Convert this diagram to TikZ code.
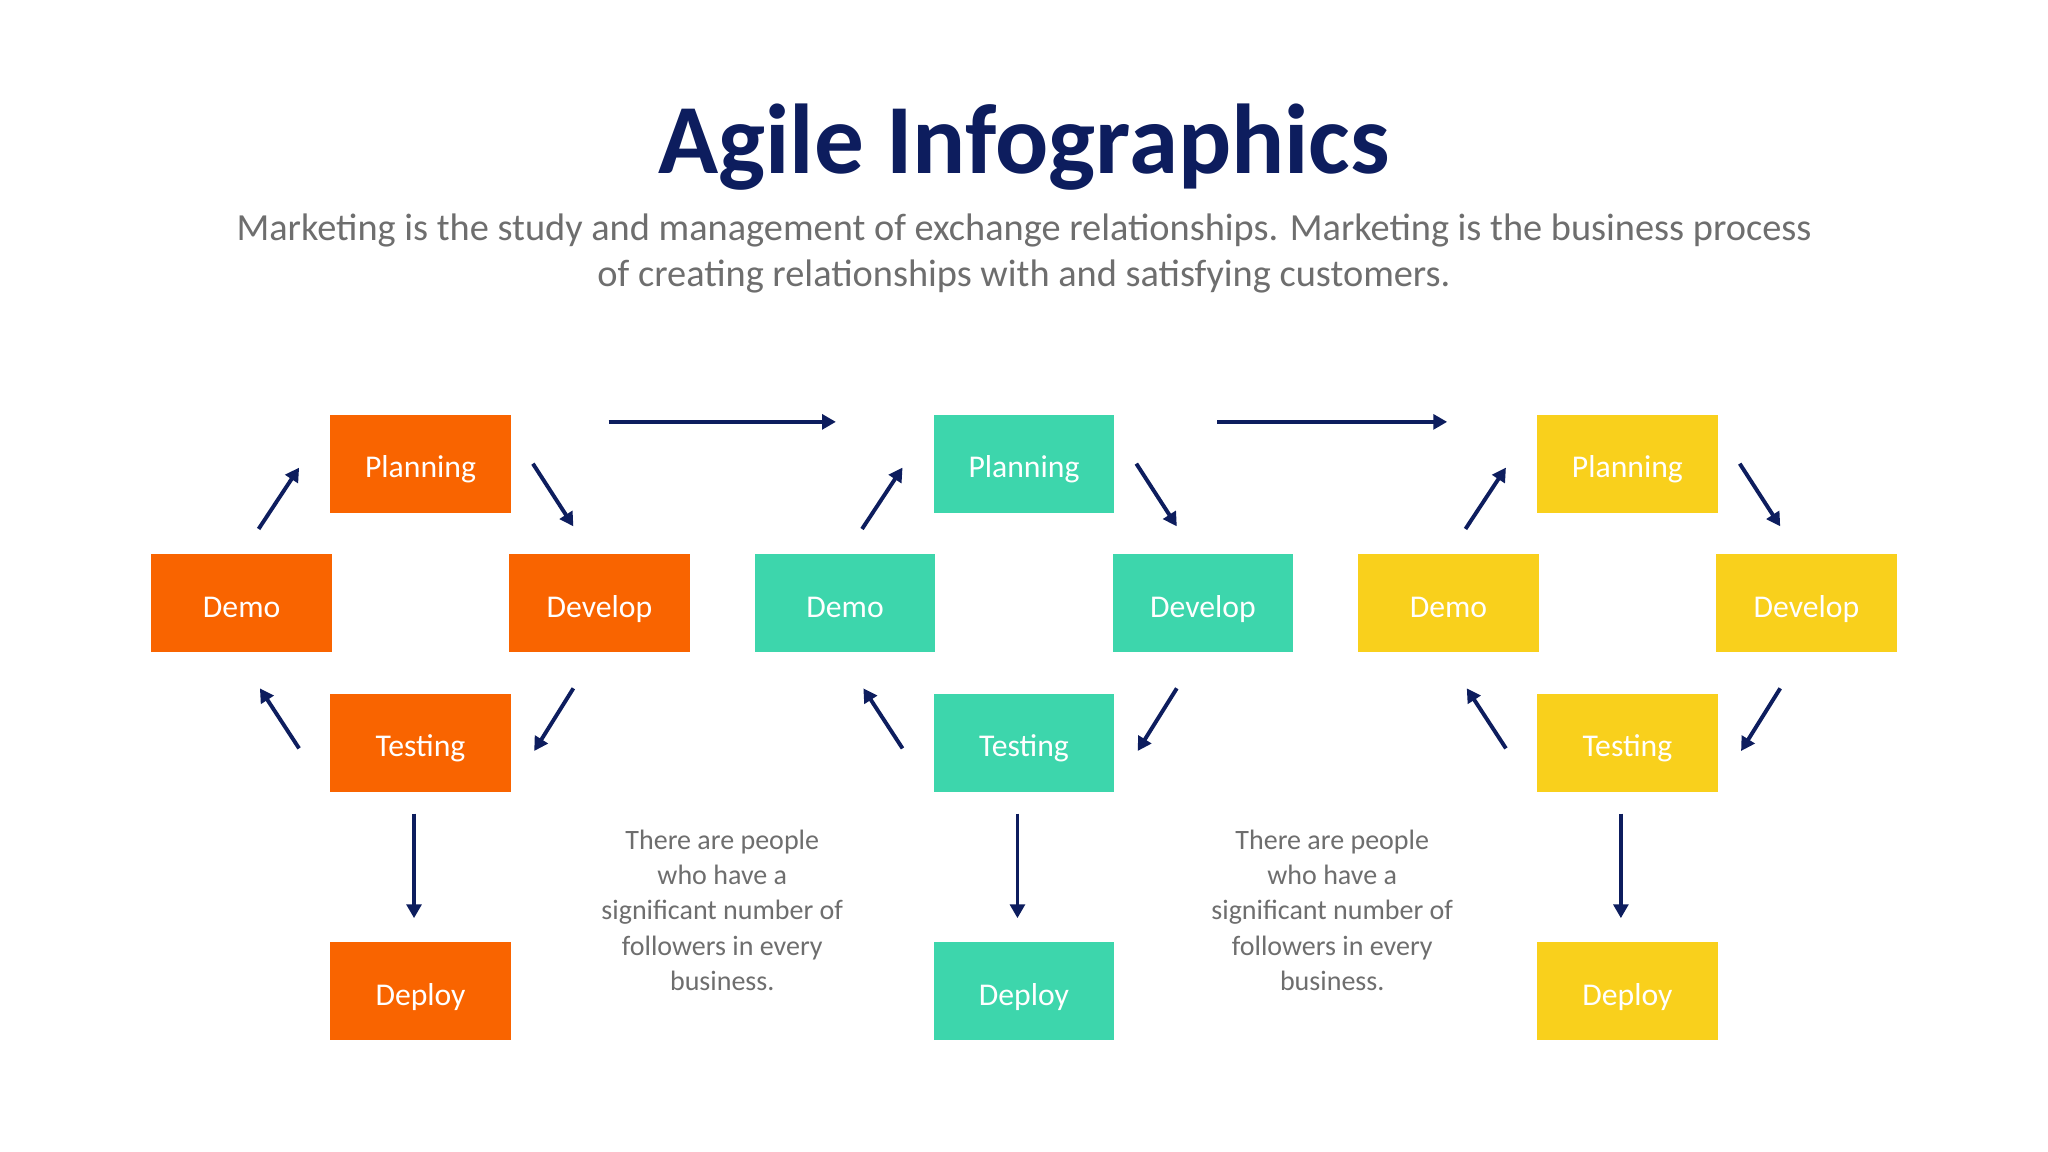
\documentclass[tikz,border=0pt]{standalone}
\usepackage{fontspec}
\setmainfont{Carlito}
\usetikzlibrary{calc,arrows.meta}
\definecolor{cor}{HTML}{F96400}
\definecolor{cte}{HTML}{3DD6AC}
\definecolor{cye}{HTML}{F9D01C}
\definecolor{navy}{HTML}{0D1D5E}
\definecolor{gtx}{HTML}{6E6E6E}
\tikzset{
 box/.style={minimum width=1.38cm,minimum height=0.75cm,inner sep=0,text=white,text height=6pt,text depth=0pt,font=\fontsize{6.9}{7}\selectfont},
 arr/.style={draw=navy,line width=0.85pt,-{Triangle[length=3pt,width=3.2pt]}},
 note/.style={text=gtx,align=center,font=\fontsize{6.1}{7.7}\selectfont}
}
\begin{document}
\begin{tikzpicture}[x=0.01cm,y=-0.01cm]
\useasboundingbox[fill=white] (0,0) rectangle (1568,882);
\node[text=navy,font=\bfseries\fontsize{21.6}{22}\selectfont] (title) at (784,113) {Agile Infographics};
\node[text=gtx,align=center,font=\fontsize{8.35}{10}\selectfont] (sub) at (784,194) {Marketing is the study and management of exchange relationships. Marketing is the business process\\of creating relationships with and satisfying customers.};
\foreach \i/\c/\dx in {1/cor/0,2/cte/462,3/cye/924}{
 \node[box,fill=\c] (p\i) at (322+\dx,355) {Planning};
 \node[box,fill=\c] (d\i) at (185+\dx,462) {Demo};
 \node[box,fill=\c] (v\i) at (459+\dx,462) {Develop};
 \node[box,fill=\c] (t\i) at (322+\dx,569) {Testing};
 \node[box,fill=\c] (y\i) at (322+\dx,759) {Deploy};
 \draw[arr] ($(d\i)+(13,-57)$) -- ($(p\i)+(-93,3)$);
 \draw[arr] ($(p\i)+(86,0)$) -- ($(v\i)+(-20,-59)$);
 \draw[arr] ($(v\i)+(-20,65)$) -- ($(t\i)+(87,6)$);
 \draw[arr] ($(t\i)+(-93,4)$) -- ($(d\i)+(14,65)$);
 \draw[arr] ($(t\i)+(-5,54)$) -- ($(y\i)+(-5,-56)$);
}
\draw[arr] ($(p1)+(144,-32)$) coordinate (a1) -- ($(p2)+(-144,-32)$);
\draw[arr] ($(p2)+(148,-32)$) coordinate (a2) -- ($(p3)+(-138,-32)$);
\node[note] (n1) at (553,697) {There are people\\who have a\\significant number of\\followers in every\\business.};
\node[note] (n2) at (1020,697) {There are people\\who have a\\significant number of\\followers in every\\business.};
\end{tikzpicture}
\end{document}
